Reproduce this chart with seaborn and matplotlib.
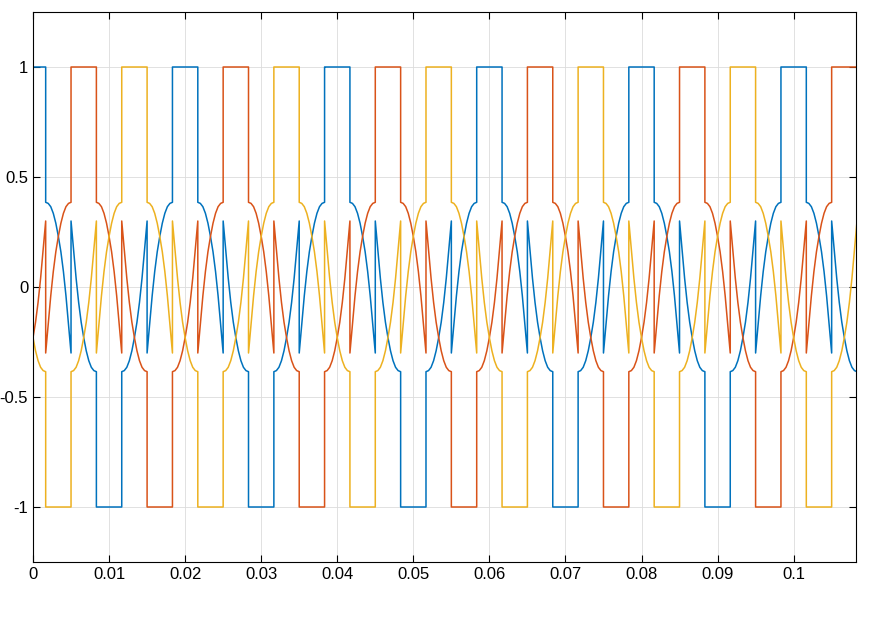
import numpy as np
import pandas as pd
import matplotlib.pyplot as plt
import seaborn as sns

# waveform (one phase, one period of 0.02 s)
period = 0.02
high_level = 1.0
# first half of the falling part, read at fractions 0..1 of T/6
fall_frac = [0.0, 0.1, 0.2, 0.3, 0.4, 0.5, 0.6, 0.7, 0.8, 0.9, 1.0]
fall_vals = [0.385, 0.38, 0.365, 0.335, 0.29, 0.23, 0.16, 0.07, -0.04, -0.17, -0.30]
phase_shift = [0.0, 1/3, 2/3]   # fractions of the period
phase_colors = ["#0072BD", "#D95319", "#EDB120"]
x_ticks = [0, 0.01, 0.02, 0.03, 0.04, 0.05, 0.06, 0.07, 0.08, 0.09, 0.1]
y_ticks = [-1, -0.5, 0, 0.5, 1]
y_tick_labels = ["-1", "-0.5", "0", "0.5", "1"]
t_end = 0.1082


def one_period():
    pts = [(-1/12, high_level), (1/12, high_level)]
    for f, v in zip(fall_frac, fall_vals):
        pts.append((1/12 + f/6, v))
    for f, v in zip(fall_frac[::-1], fall_vals[::-1]):
        pts.append((1/4 + (1 - f)/6, -v))
    pts += [(5/12, -high_level), (7/12, -high_level)]
    for f, v in zip(fall_frac, fall_vals):
        pts.append((7/12 + f/6, -v))
    for f, v in zip(fall_frac[::-1], fall_vals[::-1]):
        pts.append((3/4 + (1 - f)/6, v))
    pts.append((11/12, high_level))
    return pts


rows = []
for p, shift in enumerate(phase_shift):
    k = 0
    for n in range(-1, 7):
        for t, v in one_period():
            rows.append(dict(phase=p, order=k, t=(n + t + shift) * period, v=v))
            k += 1
df = pd.DataFrame(rows)

plt.rcParams['font.family'] = ['Liberation Sans', 'DejaVu Sans']
fig = plt.figure(figsize=(8.75, 6.19), dpi=100)
ax = fig.add_axes([33/875, 1 - 562/619, (856-33)/875, (562-12)/619])
for p in range(3):
    d = df[df.phase == p]
    sns.lineplot(data=d, x="t", y="v", sort=False, estimator=None,
                 color=phase_colors[p], linewidth=1.1, ax=ax)
ax.set_xlim(0, t_end)
ax.set_ylim(-1.25, 1.25)
ax.set_xticks(x_ticks)
ax.set_xticklabels([f"{x:g}" for x in x_ticks])
ax.set_yticks(y_ticks)
ax.set_yticklabels(y_tick_labels)
ax.set_xlabel("")
ax.set_ylabel("")
ax.grid(True, color="#dcdcdc", linewidth=0.6)
ax.set_axisbelow(True)
ax.tick_params(direction="in", top=True, right=True, labelsize=12, length=5)
for s in ax.spines.values():
    s.set_linewidth(0.8)
fig.savefig("out.png", dpi=100)
